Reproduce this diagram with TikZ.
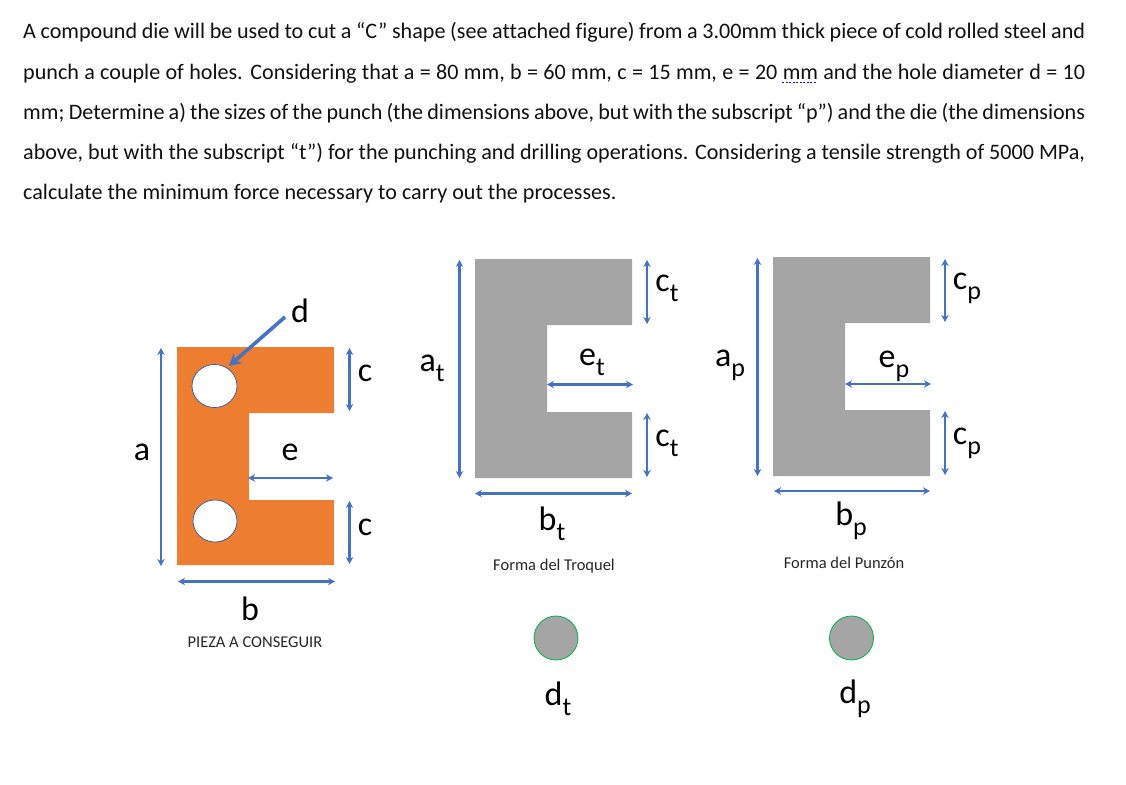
\documentclass[tikz,border=0pt]{standalone}
\usepackage{fontspec}
\setmainfont{Carlito}[Ligatures=CommonOff]
\usetikzlibrary{arrows.meta,shapes.geometric}
\definecolor{dimblue}{HTML}{4472C4}
\definecolor{partorange}{HTML}{ED7D31}
\definecolor{toolgray}{HTML}{A5A5A5}
\definecolor{holeedge}{HTML}{2F5597}
\definecolor{greenedge}{HTML}{00B050}
\definecolor{txt}{HTML}{111111}
\definecolor{capt}{HTML}{262626}
\newcommand{\lbl}[2]{#1\raisebox{-.3em}{\fontsize{26}{26}\selectfont #2}}
\tikzset{
  dimline/.style={draw=dimblue,line width=2.6pt,{Stealth[length=7pt,width=7.5pt]}-{Stealth[length=7pt,width=7.5pt]}},
  thindim/.style={draw=dimblue,line width=2.2pt,{Stealth[length=7pt,width=7.5pt]}-{Stealth[length=7pt,width=7.5pt]}},
  para/.style={anchor=base west,inner sep=0pt,text=txt,font=\fontsize{22.1}{26}\selectfont},
  dimlabel/.style={inner sep=0pt,text=black,font=\fontsize{34}{38}\selectfont},
  caption/.style={inner sep=0pt,text=capt,font=\fontsize{16.5}{18}\selectfont},
  hole/.style={ellipse,draw=holeedge,line width=.7pt,fill=white,inner sep=0pt},
  toolhole/.style={circle,draw=greenedge,line width=.8pt,fill=toolgray,inner sep=0pt,minimum size=44pt},
}
\begin{document}
\begin{tikzpicture}[x=1pt,y=-1pt]
\path[use as bounding box] (0,0) rectangle (1126,784);
% paragraph
\node[para] (l1) at (23,38.5) {\makebox[1062pt][s]{A compound die will be used to cut a “C” shape (see attached figure) from a 3.00mm thick piece of cold rolled steel and}};
\node[para] (l2) at (23,79.5) {\makebox[1062pt][s]{punch a couple of holes. Considering that a = 80 mm, b = 60 mm, c = 15 mm, e = 20 mm and the hole diameter d = 10}};
\node[para] (l3) at (23,119.5) {\makebox[1062pt][s]{mm; Determine a) the sizes of the punch (the dimensions above, but with the subscript “p”) and the die (the dimensions}};
\node[para] (l4) at (23,159.5) {\makebox[1062pt][s]{above, but with the subscript “t”) for the punching and drilling operations. Considering a tensile strength of 5000 MPa,}};
\node[para] (l5) at (23,199.5) {calculate the minimum force necessary to carry out the processes.};
\draw[draw=blue!70!violet,line width=1pt,dash pattern=on 2pt off 1.5pt] (782,82) -- (817,82);
% part
\fill[partorange] (177,347) -- (334,347) -- (334,413) -- (249,413) -- (249,500) -- (334,500) -- (334,565) -- (177,565) -- cycle;
\node[hole,minimum width=45pt,minimum height=43pt] (h1) at (214.5,386) {};
\node[hole,minimum width=44pt,minimum height=42pt] (h2) at (215,521) {};
\coordinate (dstart) at (285,317);
\coordinate (dend) at (229,366);
\draw[draw=dimblue,line width=3.6pt,-{Stealth[length=12pt,width=13pt]}] (dstart) -- (dend);
\node[dimlabel] (ld) at (300,311) {d};
\coordinate (aT) at (161,348); \coordinate (aB) at (161,566);
\draw[dimline] (aT) -- (aB);
\coordinate (c1T) at (349.5,348); \coordinate (c1B) at (349.5,411);
\draw[thindim] (c1T) -- (c1B);
\coordinate (c2T) at (349.5,501); \coordinate (c2B) at (349.5,564);
\draw[thindim] (c2T) -- (c2B);
\coordinate (eL) at (248,478); \coordinate (eR) at (333,478);
\draw[thindim,line width=1.5pt] (eL) -- (eR);
\coordinate (bL) at (178,581.5); \coordinate (bR) at (335,581.5);
\draw[dimline] (bL) -- (bR);
\node[dimlabel] (la) at (142,452) {a};
\node[dimlabel] (lc1) at (365,373) {c};
\node[dimlabel] (lc2) at (365,527) {c};
\node[dimlabel] (le) at (290,452) {e};
\node[dimlabel] (lb) at (250,609) {b};
\node[caption] (cap1) at (255,642) {PIEZA A CONSEGUIR};
% die
\fill[toolgray] (475,259) -- (632,259) -- (632,325) -- (547,325) -- (547,412) -- (632,412) -- (632,478) -- (475,478) -- cycle;
\coordinate (atT) at (459.5,260); \coordinate (atB) at (459.5,478);
\draw[dimline] (atT) -- (atB);
\coordinate (ct1T) at (647,260); \coordinate (ct1B) at (647,324);
\draw[thindim] (ct1T) -- (ct1B);
\coordinate (ct2T) at (647,413); \coordinate (ct2B) at (647,477);
\draw[thindim] (ct2T) -- (ct2B);
\coordinate (etL) at (547,384.5); \coordinate (etR) at (633,384.5);
\draw[dimline] (etL) -- (etR);
\coordinate (btL) at (475,493.5); \coordinate (btR) at (632,493.5);
\draw[dimline] (btL) -- (btR);
\node[dimlabel] (lat) at (432,368.5) {\lbl{a}{t}};
\node[dimlabel] (lct1) at (667,288.5) {\lbl{c}{t}};
\node[dimlabel] (lct2) at (667,443.5) {\lbl{c}{t}};
\node[dimlabel] (let) at (592,362.5) {\lbl{e}{t}};
\node[dimlabel] (lbt) at (552,523.5) {\lbl{b}{t}};
\node[caption] (cap2) at (554,566.5) {Forma del Troquel};
\node[toolhole] (dt) at (556,638) {};
\node[dimlabel] (ldt) at (558,698.5) {\lbl{d}{t}};
% punch
\fill[toolgray] (773,257) -- (930,257) -- (930,323) -- (845,323) -- (845,410) -- (930,410) -- (930,476) -- (773,476) -- cycle;
\coordinate (apT) at (757.5,258); \coordinate (apB) at (757.5,476);
\draw[dimline] (apT) -- (apB);
\coordinate (cp1T) at (945,259); \coordinate (cp1B) at (945,322);
\draw[thindim] (cp1T) -- (cp1B);
\coordinate (cp2T) at (945,411); \coordinate (cp2B) at (945,475);
\draw[thindim] (cp2T) -- (cp2B);
\coordinate (epL) at (845,384); \coordinate (epR) at (931,384);
\draw[dimline] (epL) -- (epR);
\coordinate (bpL) at (774,491); \coordinate (bpR) at (930,491);
\draw[dimline] (bpL) -- (bpR);
\node[dimlabel] (lap) at (730,365.5) {\lbl{a}{p}};
\node[dimlabel] (lcp1) at (967,288.5) {\lbl{c}{p}};
\node[dimlabel] (lcp2) at (967,443.5) {\lbl{c}{p}};
\node[dimlabel] (lep) at (894,366.5) {\lbl{e}{p}};
\node[dimlabel] (lbp) at (851,520.5) {\lbl{b}{p}};
\node[caption] (cap3) at (844,562.5) {Forma del Punzón};
\node[toolhole] (dp) at (851.5,638) {};
\node[dimlabel] (ldp) at (855,698.5) {\lbl{d}{p}};
\end{tikzpicture}
\end{document}
